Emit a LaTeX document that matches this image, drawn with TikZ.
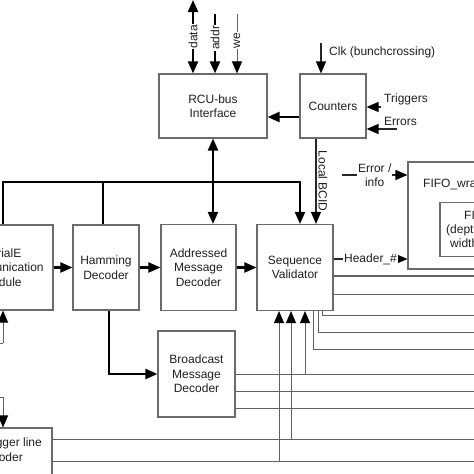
\documentclass[tikz,border=0pt]{standalone}
\usepackage{fontspec}
\setmainfont{Liberation Sans}
\usetikzlibrary{arrows.meta,calc}
\begin{document}
\begin{tikzpicture}[x=1pt,y=-1pt,
  every node/.style={font=\fontsize{12}{14.5}\selectfont, text=black!88},
  box/.style={draw=black!58, line width=1.1pt, align=center, inner sep=0pt},
  bus/.style={line width=2.2pt, draw=black},
  thinb/.style={line width=1.2pt, draw=black!85},
  thing/.style={line width=1pt, draw=black!62},
  tip/.style={-{Triangle[length=12pt,width=10pt,color=black]}},
  tips/.style={{Triangle[length=12pt,width=10pt,color=black]}-{Triangle[length=12pt,width=10pt,color=black]}},
  lbl/.style={inner sep=1pt},
  onl/.style={fill=white, inner sep=1pt, align=center}
]
\useasboundingbox (0,0) rectangle (474,474);
\clip (0,0) rectangle (474,474);

% boxes
\node[box, minimum width=108pt, minimum height=64pt] (rcu) at (213,106) {RCU-bus\\Interface};
\node[box, minimum width=66pt, minimum height=64pt] (cnt) at (333,106) {Counters};
\node[box, minimum width=102pt, minimum height=85pt] (ser) at (2,267.5) {SerialE\\Communication\\Module};
\node[box, minimum width=66pt, minimum height=85pt] (ham) at (106,267.5) {Hamming\\Decoder};
\node[box, minimum width=75pt, minimum height=86pt] (adr) at (198.5,267.5) {Addressed\\Message\\Decoder};
\node[box, minimum width=76pt, minimum height=86pt] (sv) at (295,267.5) {Sequence\\Validator};
\node[box, minimum width=77pt, minimum height=86pt] (brd) at (196.5,374) {Broadcast\\Message\\Decoder};
\node[box, minimum width=104pt, minimum height=66pt] (trg) at (0,461) {};
\node[lbl, anchor=east] (trgt1) at (43,443) {Trigger line};
\node[lbl, anchor=east] (trgt2) at (24,457) {Decoder};
\node[box, minimum width=132pt, minimum height=107pt] (fw) at (474,215.5) {};
\node[lbl, anchor=west] (fwt) at (422,185) {FIFO\_wrapper};
\node[box, minimum width=70pt, minimum height=54pt] (fifo) at (475,229.5) {};
\node[lbl, anchor=west] (fifot1) at (463,215) {FIFO};
\node[lbl, anchor=west] (fifot2) at (445,230) {(depth};
\node[lbl, anchor=west] (fifot3) at (449,244) {width)};

% top bus signals
\coordinate (dtop) at (193,0);
\coordinate (atop) at (215,14);
\coordinate (wtop) at (237,14);
\draw[bus, tips] (dtop) -- (dtop |- rcu.north) node[midway, rotate=90, onl] {data};
\draw[bus, tip] (atop) -- (atop |- rcu.north) node[pos=0.4, rotate=90, onl] {addr};
\draw[thing, tip] (wtop) -- (wtop |- rcu.north) node[pos=0.45, rotate=90, onl] {we};

% counters
\coordinate (clk) at (321,43);
\draw[thinb, tip] (clk) -- (clk |- cnt.north);
\node[lbl, anchor=west] (clkt) at (328,52) {Clk (bunchcrossing)};
\coordinate (trgin) at (381,107);
\draw[thinb, tip] (trgin) -- (trgin -| cnt.east);
\node[lbl, anchor=west] (trgl) at (383,99) {Triggers};
\coordinate (errin) at (397,129);
\draw[thinb, tip] (errin) -- (errin -| cnt.east);
\node[lbl, anchor=west] (errl) at (383,121) {Errors};
\draw[bus, tip] ($(cnt.west)+(0,11)$) -- ($(rcu.east)+(0,11)$);

% RCU bus <-> addressed decoder
\draw[bus, tips] (rcu.south) -- (rcu.south |- adr.north);

% internal bus
\coordinate (busR) at (300,182);
\coordinate (sertop) at ($(ser.north)+(1,0)$);
\coordinate (hamtop) at ($(ham.north)+(-3,0)$);
\draw[bus, tip] (sertop) |- (busR) -- (busR |- sv.north);
\draw[bus] (hamtop) -- (hamtop |- busR);

% Local BCID
\coordinate (bcid) at ($(cnt.south)+(-17,0)$);
\draw[thinb, tip] (bcid) -- (bcid |- sv.north) node[midway, rotate=-90, anchor=south, inner sep=2pt] {Local BCID};

% data path
\draw[bus, tip] (ser.east) -- (ham.west);
\draw[bus, tip] (ham.east) -- (adr.west);
\draw[bus, tip] (adr.east) -- (sv.west);
\coordinate (hambot) at ($(ham.south)+(3,0)$);
\draw[bus, tip] (hambot) |- (brd.west);

% to FIFO wrapper
\coordinate (einf) at (342,175);
\draw[thinb, tip] (einf) -- (einf -| fw.west) node[midway, onl] {Error /\\info};
\coordinate (hdr) at ($(sv.east)+(0,-8.5)$);
\draw[thinb, tip] (hdr) -- (hdr -| fw.west) node[midway, onl] {Header\_\#};

% sequence validator outputs
\draw[thing, line width=1.6pt] ($(sv.east)+(0,8.5)$) -- ++(200,0);
\draw[thing] ($(sv.east)+(0,26.5)$) -- ++(200,0);
\coordinate (o1) at ($(sv.south)+(27,0)$);
\coordinate (o2) at ($(sv.south)+(23,0)$);
\coordinate (o3) at ($(sv.south)+(18,0)$);
\draw[thing] (o1) -- ++(0,4) -- ++(200,0);
\draw[thing] (o2) -- ++(0,21) -- ++(200,0);
\draw[thing] (o3) -- ++(0,38) -- ++(200,0);

% broadcast outputs
\coordinate (b1) at (brd.east);
\coordinate (b2) at ($(brd.east)+(0,17)$);
\coordinate (b3) at ($(brd.east)+(0,34)$);
\draw[thing] (b1) -- ++(260,0);
\draw[thing] (b2) -- ++(260,0);
\draw[thing] (b3) -- ++(260,0);

% trigger decoder outputs
\coordinate (t1) at ($(trg.east)+(0,-22)$);
\coordinate (t2) at (trg.east);
\draw[thing] (t1) -- ++(440,0);
\draw[thing] (t2) -- ++(440,0);

% inputs to sequence validator
\coordinate (i1) at ($(sv.south)+(10,0)$);
\coordinate (i2) at ($(sv.south)+(-4,0)$);
\coordinate (i3) at ($(sv.south)+(-16,0)$);
\draw[thing, tip] (b1 -| i1) -- (i1);
\draw[thing, tip] (t1 -| i2) -- (i2);
\draw[thing, tip] (t2 -| i3) -- (i3);

% left inputs
\coordinate (sin) at (3,343);
\coordinate (tin) at (3,397);
\draw[thing] (-10,343) -- (sin);
\draw[thing, tip] (sin) -- (sin |- ser.south);
\draw[thing] (-10,397) -- (tin);
\draw[thing, tip] (tin) -- (tin |- trg.north);
\end{tikzpicture}
\end{document}
